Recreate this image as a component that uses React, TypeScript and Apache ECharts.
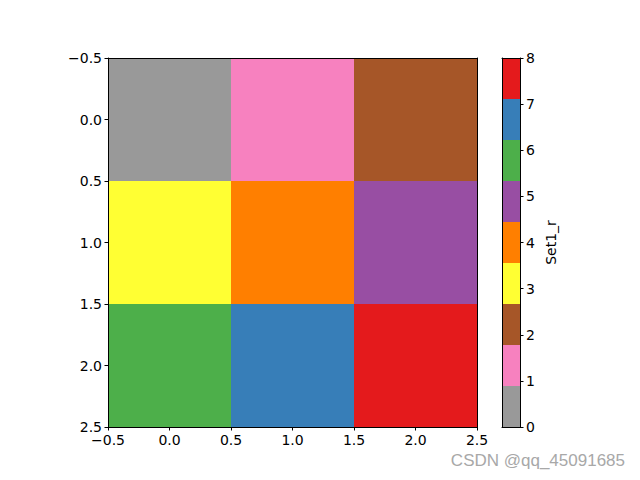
import React, { useEffect, useRef } from "react";
import * as echarts from "echarts";

// Matrix values (row-major, 3x3) as shown by imshow
const rows = [0, 1, 2];
const cols = [0, 1, 2];
const matrix = [
  [0, 1, 2],
  [3, 4, 5],
  [6, 7, 8],
];
// Set1_r colormap (9 discrete colors)
const cmapColors = [
  "#999999",
  "#f781bf",
  "#a65628",
  "#ffff33",
  "#ff7f00",
  "#984ea3",
  "#4daf4a",
  "#377eb8",
  "#e41a1c",
];
const vmin = 0;
const vmax = 8;
const colorbarTicks = [0, 1, 2, 3, 4, 5, 6, 7, 8];
const colorbarLabel = "Set1_r";
const watermark = "CSDN @qq_45091685";

const FONT = "DejaVu Sans";

function colorFor(v: number) {
  const n = cmapColors.length;
  let idx = Math.floor(((v - vmin) / (vmax - vmin)) * n);
  if (idx >= n) idx = n - 1;
  if (idx < 0) idx = 0;
  return cmapColors[idx];
}

const fmt = (v: number) => v.toFixed(1).replace("-", "\u2212");

export default function App() {
  const ref = useRef<HTMLDivElement>(null);
  useEffect(() => {
    if (!ref.current) return;
    const chart = echarts.init(ref.current, undefined, { renderer: "svg" });

    const cells: number[][] = [];
    rows.forEach((r) => cols.forEach((c) => cells.push([c, r, matrix[r][c]])));

    const bandData = cmapColors.map((_, i) => [i]);
    const bandH = (vmax - vmin) / cmapColors.length;

    const lineAxis = {
      axisLine: { show: true, onZero: false, lineStyle: { color: "#000", width: 1 } },
      axisTick: { show: false },
      axisLabel: { show: false },
      splitLine: { show: false },
      z: 10,
    };
    const tickCommon = {
      axisLine: { show: true, onZero: false, lineStyle: { color: "#000", width: 1 } },
      axisTick: { show: true, length: 3.5, inside: false, lineStyle: { color: "#000" } },
      splitLine: { show: false },
      z: 10,
    };

    const option: any = {
      animation: false,
      backgroundColor: "#fff",
      grid: [
        { left: 108, top: 58, width: 369, height: 369 },
        { left: 502, top: 58, width: 18, height: 369 },
      ],
      xAxis: [
        {
          type: "value",
          gridIndex: 0,
          position: "bottom",
          min: -0.5,
          max: 2.5,
          interval: 0.5,
          ...tickCommon,
          axisLabel: { formatter: fmt, color: "#000", fontSize: 14, fontFamily: FONT, margin: 6 },
        },
        { type: "value", gridIndex: 0, position: "top", min: -0.5, max: 2.5, ...lineAxis },
        { type: "value", gridIndex: 1, position: "bottom", min: 0, max: 1, ...lineAxis },
        { type: "value", gridIndex: 1, position: "top", min: 0, max: 1, ...lineAxis },
      ],
      yAxis: [
        {
          type: "value",
          gridIndex: 0,
          position: "left",
          inverse: true,
          min: -0.5,
          max: 2.5,
          interval: 0.5,
          ...tickCommon,
          axisLabel: { formatter: fmt, color: "#000", fontSize: 14, fontFamily: FONT, margin: 6 },
        },
        { type: "value", gridIndex: 0, position: "right", inverse: true, min: -0.5, max: 2.5, ...lineAxis },
        {
          type: "value",
          gridIndex: 1,
          position: "right",
          min: vmin,
          max: vmax,
          interval: 1,
          ...tickCommon,
          axisLabel: {
            color: "#000",
            fontSize: 14,
            fontFamily: FONT,
            margin: 6,
            formatter: (v: number) => (colorbarTicks.includes(v) ? String(v) : ""),
          },
          name: colorbarLabel,
          nameLocation: "middle",
          nameRotate: 90,
          nameGap: 24,
          nameTextStyle: { color: "#000", fontSize: 14, fontFamily: FONT },
        },
        { type: "value", gridIndex: 1, position: "left", min: vmin, max: vmax, ...lineAxis },
      ],
      series: [
        {
          type: "custom",
          xAxisIndex: 0,
          yAxisIndex: 0,
          data: cells,
          renderItem: (params: any, api: any) => {
            const x = api.value(0);
            const y = api.value(1);
            const v = api.value(2);
            const p1 = api.coord([x - 0.5, y - 0.5]);
            const p2 = api.coord([x + 0.5, y + 0.5]);
            const left = Math.min(p1[0], p2[0]);
            const top = Math.min(p1[1], p2[1]);
            return {
              type: "rect",
              shape: { x: left, y: top, width: Math.abs(p2[0] - p1[0]), height: Math.abs(p2[1] - p1[1]) },
              style: { fill: colorFor(v) },
            };
          },
        },
        {
          type: "custom",
          xAxisIndex: 2,
          yAxisIndex: 2,
          data: bandData,
          renderItem: (params: any, api: any) => {
            const i = api.value(0);
            const p1 = api.coord([0, vmin + i * bandH]);
            const p2 = api.coord([1, vmin + (i + 1) * bandH]);
            const left = Math.min(p1[0], p2[0]);
            const top = Math.min(p1[1], p2[1]);
            return {
              type: "rect",
              shape: { x: left, y: top, width: Math.abs(p2[0] - p1[0]), height: Math.abs(p2[1] - p1[1]) },
              style: { fill: cmapColors[i] },
            };
          },
        },
      ],
      graphic: [
        {
          type: "text",
          right: 15,
          top: 452,
          style: { text: watermark, fill: "#a8a8a8", fontSize: 17, fontFamily: "Liberation Sans" },
        },
      ],
    };
    chart.setOption(option);
    return () => chart.dispose();
  }, []);
  return <div ref={ref} style={{ width: 640, height: 480, margin: -8 }} />;
}
